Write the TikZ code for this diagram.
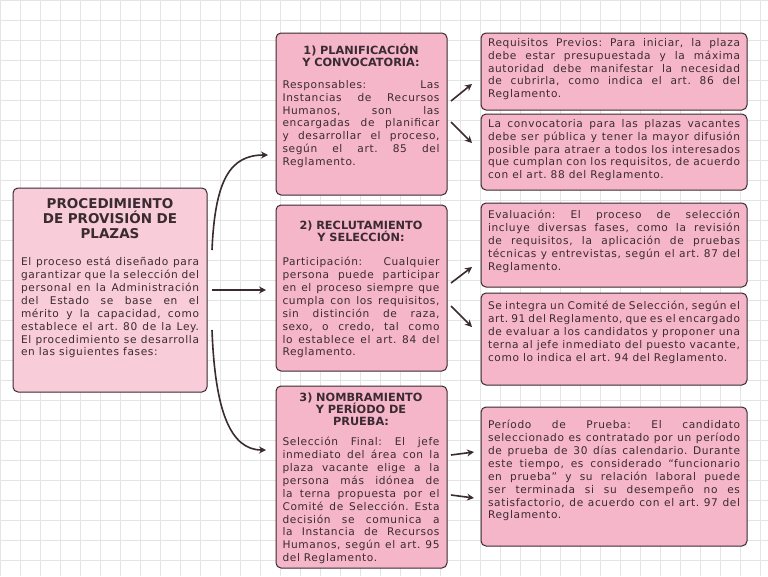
\documentclass[tikz,border=0pt]{standalone}
\usepackage{fontspec}
\setmainfont{DejaVu Sans}
\newfontfamily\bodyf[LetterSpace=6]{DejaVu Sans}
\usetikzlibrary{arrows.meta}
\definecolor{pk}{HTML}{F6B6CA}
\definecolor{pkl}{HTML}{F8CCD8}
\definecolor{ol}{HTML}{3A2A32}
\definecolor{gr}{HTML}{E4E4E4}
\begin{document}
\frenchspacing
\begin{tikzpicture}[x=1pt,y=-1pt,
 box/.style={draw=ol,line width=1pt,fill=pk,rounded corners=5pt,inner sep=0pt},
 txt/.style={text width=#1,align=justify,font=\bodyf\fontsize{10.6}{12.9}\selectfont,text=ol,inner sep=0pt,
   execute at begin node={\hyphenpenalty=10000\relax\exhyphenpenalty=10000\relax\frenchspacing}},
 ttl/.style={text width=#1,align=center,font=\bfseries\fontsize{11.3}{12}\selectfont,text=ol,inner sep=0pt},
 arr/.style={draw=ol,line width=1.6pt,-{Stealth[length=7pt,width=7pt]}}]
\useasboundingbox (0,0) rectangle (768,576);
\fill[white] (0,0) rectangle (768,576);
\foreach \i in {0,20,...,760} \draw[gr,line width=0.5pt] (\i,0) -- (\i,576);
\foreach \i in {0,20,...,576} \draw[gr,line width=0.5pt] (0,\i) -- (768,\i);
% boxes
\draw[box,fill=pkl] (13,188) rectangle (207,392);
\draw[box] (276,33) rectangle (447,195);
\draw[box] (276,205) rectangle (447,371);
\draw[box] (276,386) rectangle (447,568);
\draw[box] (481,33) rectangle (747,110);
\draw[box] (481,114) rectangle (747,190);
\draw[box] (481,203) rectangle (747,287);
\draw[box] (481,293) rectangle (747,385);
\draw[box] (481,407) rectangle (747,546);
% texts
\node[ttl=178pt,font=\bfseries\fontsize{13.5}{15}\selectfont,anchor=north] (t0) at (110,198) {PROCEDIMIENTO\\DE PROVISIÓN DE\\PLAZAS};
\node[txt=178pt,anchor=north] (b0) at (110,257) {El proceso está diseñado para garantizar que la selección del personal en la Administración del Estado se base en el mérito y la capacidad, como establece el art. 80 de la Ley. El procedimiento se desarrolla en las siguientes fases:};
\node[ttl=150pt,anchor=north] (t1) at (361,44) {1) PLANIFICACIÓN Y CONVOCATORIA:};
\node[txt=157pt,anchor=north] (b1) at (361,80) {Responsables: Las Instancias de Recursos Humanos, son las encargadas de planificar y desarrollar el proceso, según el art. 85 del Reglamento.};
\node[ttl=155pt,anchor=north] (t2) at (361,221) {2) RECLUTAMIENTO Y SELECCIÓN:};
\node[txt=157pt,anchor=north] (b2) at (361,257) {Participación: Cualquier persona puede participar en el proceso siempre que cumpla con los requisitos, sin distinción de raza, sexo, o credo, tal como lo establece el art. 84 del Reglamento.};
\node[ttl=150pt,anchor=north] (t3) at (361,393) {3) NOMBRAMIENTO\\Y PERÍODO DE\\PRUEBA:};
\node[txt=157pt,anchor=north] (b3) at (361,437) {Selección Final: El jefe inmediato del área con la plaza vacante elige a la persona más idónea de la terna propuesta por el Comité de Selección. Esta decisión se comunica a la Instancia de Recursos Humanos, según el art. 95 del Reglamento.};
\node[txt=252pt,anchor=north] (r1) at (614,38) {Requisitos Previos: Para iniciar, la plaza debe estar presupuestada y la máxima autoridad debe manifestar la necesidad de cubrirla, como indica el art. 86 del Reglamento.};
\node[txt=252pt,anchor=north] (r2) at (614,119) {La convocatoria para las plazas vacantes debe ser pública y tener la mayor difusión posible para atraer a todos los interesados que cumplan con los requisitos, de acuerdo con el art. 88 del Reglamento.};
\node[txt=252pt,anchor=north] (r3) at (614,210) {Evaluación: El proceso de selección incluye diversas fases, como la revisión de requisitos, la aplicación de pruebas técnicas y entrevistas, según el art. 87 del Reglamento.};
\node[txt=252pt,anchor=north] (r4) at (614,301) {Se integra un Comité de Selección, según el art. 91 del Reglamento, que es el encargado de evaluar a los candidatos y proponer una terna al jefe inmediato del puesto vacante, como lo indica el art. 94 del Reglamento.};
\node[txt=252pt,anchor=north] (r5) at (614,420) {Período de Prueba: El candidato seleccionado es contratado por un período de prueba de 30 días calendario. Durante este tiempo, es considerado “funcionario en prueba” y su relación laboral puede ser terminada si su desempeño no es satisfactorio, de acuerdo con el art. 97 del Reglamento.};
% connectors
\coordinate (a1) at (268,155); \coordinate (a2) at (266,290); \coordinate (a3) at (266,450);
\coordinate (s1) at (212,250); \coordinate (s2) at (212,290); \coordinate (s3) at (212,330);
\draw[arr] (s1) .. controls (215,180) and (230,155) .. (a1);
\draw[arr] (s2) -- (a2);
\draw[arr] (s3) .. controls (215,410) and (230,450) .. (a3);
\coordinate (m1a) at (451,101); \coordinate (e1a) at (472,84);
\coordinate (m1b) at (451,122); \coordinate (e1b) at (472,143);
\coordinate (m2a) at (451,283); \coordinate (e2a) at (472,267);
\coordinate (m2b) at (451,306); \coordinate (e2b) at (472,327);
\coordinate (m3a) at (451,455); \coordinate (e3a) at (474,452);
\coordinate (m3b) at (451,495); \coordinate (e3b) at (474,498);
\foreach \p in {1a,1b,2a,2b,3a,3b} \draw[arr] (m\p) -- (e\p);
\end{tikzpicture}
\end{document}
